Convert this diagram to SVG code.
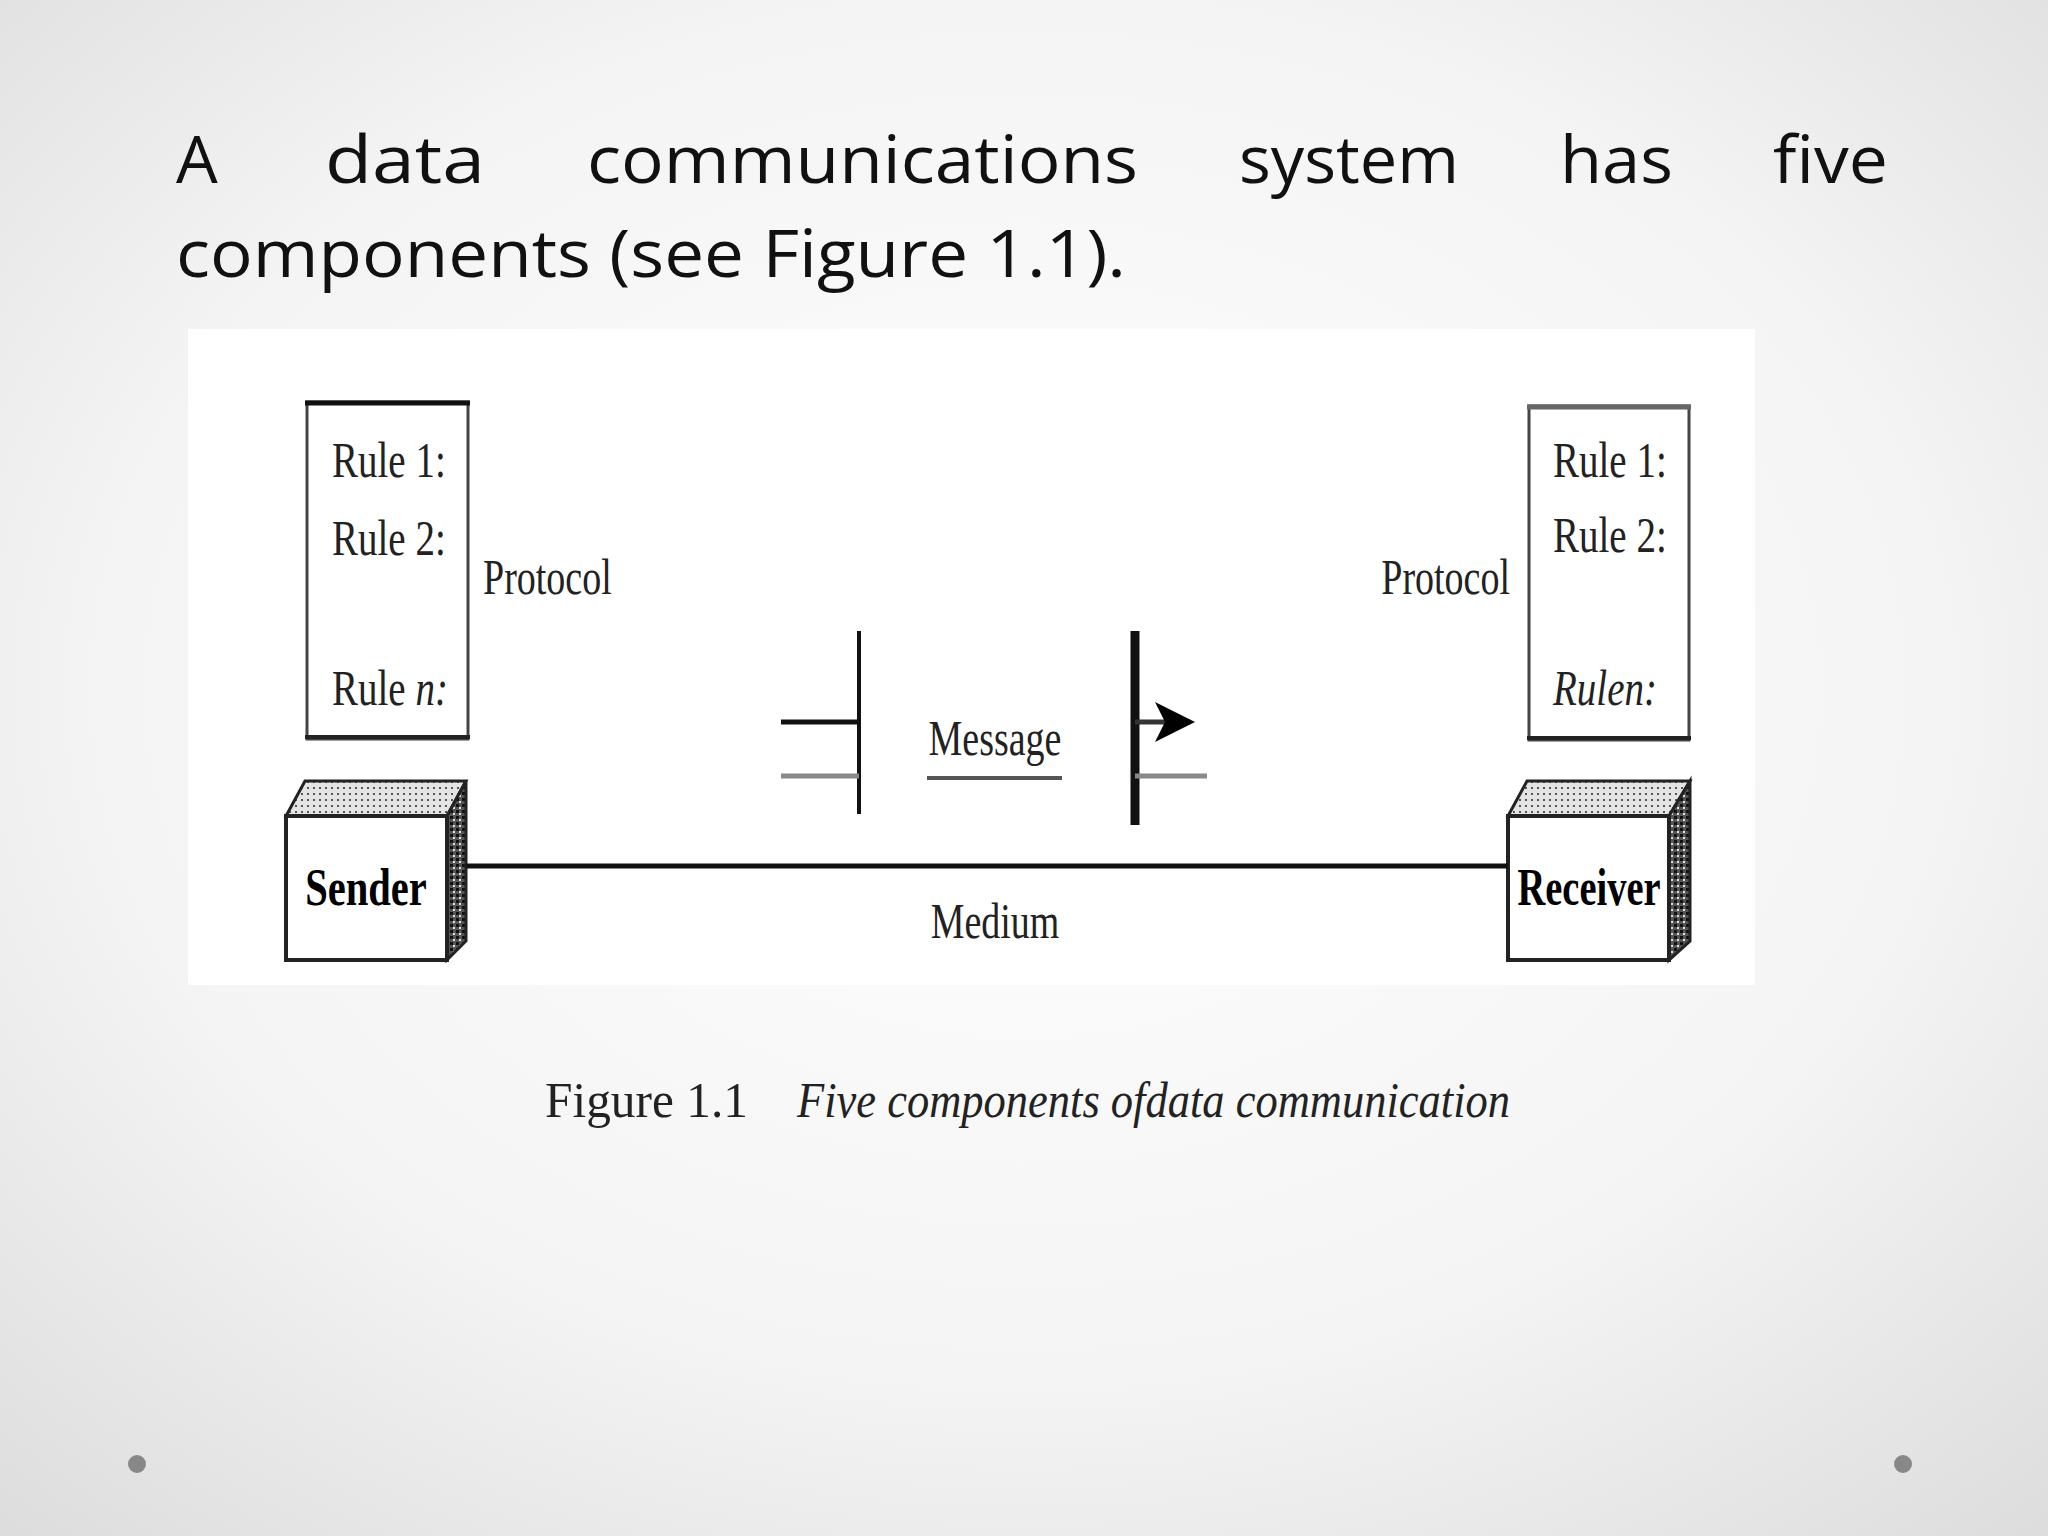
<svg xmlns="http://www.w3.org/2000/svg" width="2048" height="1536" viewBox="0 0 2048 1536">
<defs>
<radialGradient id="bg" cx="50%" cy="45%" r="75%">
<stop offset="0" stop-color="#ffffff"/><stop offset="0.6" stop-color="#f4f4f4"/><stop offset="1" stop-color="#dcdcdc"/>
</radialGradient>
<pattern id="tex" width="6" height="6" patternUnits="userSpaceOnUse">
<rect width="6" height="6" fill="#555"/><rect x="0" y="0" width="3" height="3" fill="#111"/><rect x="3" y="3" width="2" height="2" fill="#ddd"/>
</pattern>
<pattern id="tex2" width="6" height="6" patternUnits="userSpaceOnUse">
<rect width="6" height="6" fill="#e4e4e4"/><rect x="1" y="1" width="2" height="2" fill="#555"/>
</pattern>
<marker id="arr" markerWidth="8" markerHeight="8" refX="7" refY="4" orient="auto" markerUnits="strokeWidth"><path d="M0,0 L8,4 L0,8 L2,4 z" fill="#000"/></marker>
</defs>
<style>
.t{font-family:"Open Sans","DejaVu Sans",sans-serif;font-size:66px;fill:#111}
.s{font-family:"Liberation Serif",serif;font-size:50px;fill:#222}
.b{font-family:"Liberation Serif",serif;font-size:52px;font-weight:bold;fill:#000}
.box{fill:#fff;stroke:#444;stroke-width:3}
</style>
<rect width="2048" height="1536" fill="url(#bg)"/>
<g id="title">
<text class="t" x="176" y="183">A</text>
<text class="t" x="325" y="183" textLength="160" lengthAdjust="spacingAndGlyphs">data</text>
<text class="t" x="587" y="183" textLength="551" lengthAdjust="spacingAndGlyphs">communications</text>
<text class="t" x="1239" y="183" textLength="220" lengthAdjust="spacingAndGlyphs">system</text>
<text class="t" x="1560" y="183" textLength="113" lengthAdjust="spacingAndGlyphs">has</text>
<text class="t" x="1773" y="183" textLength="115" lengthAdjust="spacingAndGlyphs">five</text>
<text class="t" x="176" y="277" textLength="950" lengthAdjust="spacingAndGlyphs">components (see Figure 1.1).</text>
</g>
<rect x="188" y="329" width="1567" height="656" fill="#fff"/>
<g id="protocol-left">
<rect class="box" x="307" y="402" width="161" height="337"/>
<line x1="305" y1="403" x2="470" y2="403" stroke="#111" stroke-width="5"/>
<line x1="305" y1="737" x2="470" y2="737" stroke="#222" stroke-width="4"/>
<text class="s" transform="translate(332,477) scale(0.78,1)">Rule 1:</text>
<text class="s" transform="translate(332,555) scale(0.78,1)">Rule 2:</text>
<text class="s" transform="translate(332,705) scale(0.78,1)">Rule <tspan font-style="italic">n:</tspan></text>
<text class="s" transform="translate(483,594) scale(0.76,1)">Protocol</text>
</g>
<g id="protocol-right">
<rect class="box" x="1529" y="406" width="160" height="334"/>
<line x1="1527" y1="407" x2="1691" y2="407" stroke="#666" stroke-width="5"/>
<line x1="1527" y1="738" x2="1691" y2="738" stroke="#222" stroke-width="4"/>
<text class="s" transform="translate(1553,477) scale(0.78,1)">Rule 1:</text>
<text class="s" transform="translate(1553,552) scale(0.78,1)">Rule 2:</text>
<text class="s" font-style="italic" transform="translate(1553,705) scale(0.78,1)">Rulen:</text>
<text class="s" text-anchor="end" transform="translate(1510,594) scale(0.76,1)">Protocol</text>
</g>
<g id="sender">
<polygon points="286,816 305,781 466,781 447,816" fill="url(#tex2)" stroke="#222" stroke-width="3"/>
<polygon points="447,816 466,781 466,941 447,960" fill="url(#tex)" stroke="#222" stroke-width="3"/>
<rect x="286" y="816" width="161" height="144" fill="#fff" stroke="#222" stroke-width="4"/>
<text class="b" text-anchor="middle" transform="translate(366,905) scale(0.78,1)">Sender</text>
</g>
<g id="receiver">
<polygon points="1508,816 1527,781 1690,781 1669,816" fill="url(#tex2)" stroke="#222" stroke-width="3"/>
<polygon points="1669,816 1690,781 1690,941 1669,960" fill="url(#tex)" stroke="#222" stroke-width="3"/>
<rect x="1508" y="816" width="161" height="144" fill="#fff" stroke="#222" stroke-width="4"/>
<text class="b" text-anchor="middle" transform="translate(1589,905) scale(0.74,1)">Receiver</text>
</g>
<g id="connectors">
<line x1="466" y1="866" x2="1508" y2="866" stroke="#111" stroke-width="5"/>
<line x1="859" y1="631" x2="859" y2="814" stroke="#111" stroke-width="4"/>
<line x1="781" y1="722" x2="859" y2="722" stroke="#111" stroke-width="5"/>
<line x1="781" y1="776" x2="859" y2="776" stroke="#888" stroke-width="5"/>
<line x1="1135" y1="631" x2="1135" y2="825" stroke="#111" stroke-width="9"/>
<line x1="1135" y1="722" x2="1190" y2="722" stroke="#333" stroke-width="5" marker-end="url(#arr)"/>
<line x1="1135" y1="776" x2="1207" y2="776" stroke="#888" stroke-width="5"/>
</g>
<g id="message">
<text class="s" text-anchor="middle" transform="translate(995,755) scale(0.76,1)">Message</text>
<line x1="927" y1="778" x2="1062" y2="778" stroke="#555" stroke-width="4"/>
</g>
<g id="medium">
<text class="s" text-anchor="middle" transform="translate(995,938) scale(0.76,1)">Medium</text>
</g>
<g id="caption">
<text class="s" font-size="58" fill="#111" x="545" y="1117" textLength="203" lengthAdjust="spacingAndGlyphs">Figure 1.1</text>
<text class="s" font-style="italic" font-size="50" fill="#111" x="797" y="1117" textLength="713" lengthAdjust="spacingAndGlyphs">Five components ofdata communication</text>
</g>
<circle cx="137" cy="1464" r="9" fill="#888"/>
<circle cx="1903" cy="1464" r="9" fill="#888"/>
</svg>
